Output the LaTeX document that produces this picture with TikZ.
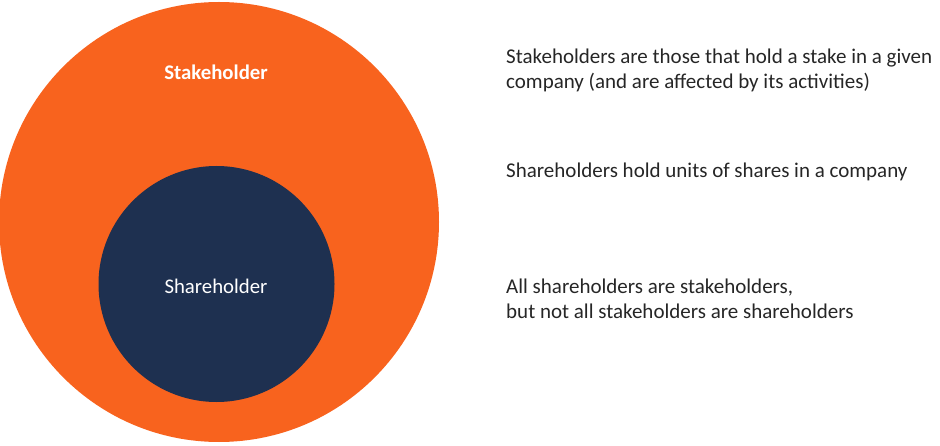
\documentclass[tikz,border=0pt]{standalone}
\usepackage{fontspec}
\setmainfont{Carlito}
\definecolor{orangeC}{RGB}{248,99,30}
\definecolor{navyC}{RGB}{30,48,80}
\definecolor{txtC}{RGB}{38,38,38}
\begin{document}
\begin{tikzpicture}[x=1pt,y=-1pt,
  circlabel/.style={text=white,font=\fontsize{20.8}{24}\selectfont,inner sep=0pt},
  desc/.style={text=txtC,font=\fontsize{21}{25.5}\selectfont,align=left,anchor=west,inner sep=0pt}]
\useasboundingbox (0,0) rectangle (940,446);
\fill[orangeC] (219,222) circle[radius=220];
\fill[navyC] (216.5,284) circle[radius=118];
\node[circlabel,font=\fontsize{20.8}{24}\selectfont\bfseries] (stake) at (216,72) {Stakeholder};
\node[circlabel] (share) at (216,286) {Shareholder};
\node[desc] (d1) at (506,70.5) {Stakeholders are those that hold a stake in a given\\company (and are affected by its activities)};
\node[desc] (d2) at (506,172) {Shareholders hold units of shares in a company};
\node[desc] (d3) at (506,299) {All shareholders are stakeholders,\\but not all stakeholders are shareholders};
\end{tikzpicture}
\end{document}
